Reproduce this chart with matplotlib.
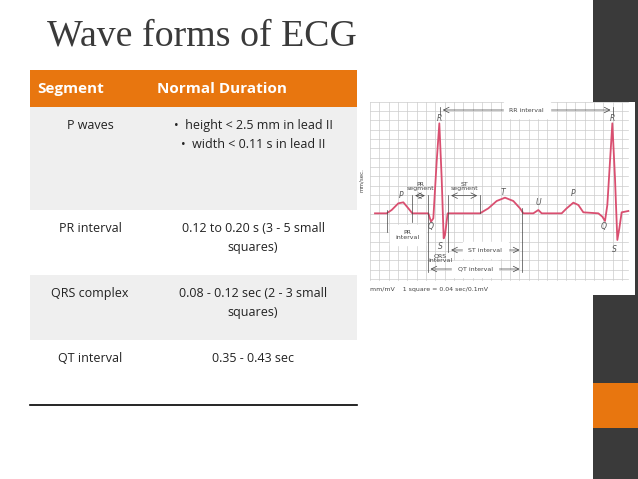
import matplotlib
matplotlib.use("Agg")
import matplotlib.pyplot as plt
from matplotlib.patches import Rectangle

W, H = 638, 479
title = "Wave forms of ECG"
headers = ["Segment", "Normal Duration"]
segments = ["P waves", "PR interval", "QRS complex", "QT interval"]
durations = ["•  height < 2.5 mm in lead II\n•  width < 0.11 s in lead II",
             "0.12 to 0.20 s (3 - 5 small\nsquares)",
             "0.08 - 0.12 sec (2 - 3 small\nsquares)",
             "0.35 - 0.43 sec"]
row_tops = [107, 210, 275, 340, 405]
row_colors = ["#efefef", "#ffffff", "#efefef", "#ffffff"]

# ECG trace key points (image coords: x in px, y in px downward)
ecg_x = [30, 65, 80, 100, 115, 130, 142, 190, 198, 205, 215, 223, 230, 236, 240, 248,
         345, 370, 395, 420, 445, 465, 475, 505, 520, 530, 590, 605, 625, 640, 655,
         700, 712, 720, 727, 742, 750, 757, 763, 770, 790]
ecg_y = [355, 355, 345, 325, 322, 340, 355, 355, 380, 370, 200, 85, 250, 430, 420, 355,
         355, 340, 318, 308, 318, 340, 355, 355, 345, 355, 355, 340, 323, 330, 352,
         355, 365, 378, 330, 85, 250, 435, 400, 352, 348]
wave_labels = ["P", "R", "Q", "S", "T", "U", "P", "R", "Q", "S"]
wave_lx = [108, 222, 198, 225, 415, 520, 625, 742, 717, 748]
wave_ly = [300, 70, 395, 455, 293, 322, 297, 70, 395, 462]

fig = plt.figure(figsize=(W/100, H/100), dpi=100)
fig.patch.set_facecolor("white")
def P(x, y): return (x/W, 1-y/H)

def rect(x0, y0, x1, y1, c, z=0):
    fig.add_artist(Rectangle(P(x0, y1), (x1-x0)/W, (y1-y0)/H, transform=fig.transFigure,
                             facecolor=c, edgecolor="none", zorder=z))

rect(593, 0, 638, 479, "#3a3a3a")
rect(593, 383, 638, 428, "#e8760f", 1)

fig.text(*P(47, 46), title, fontsize=27.3, family="Liberation Serif", color="#3a3a3a", va="baseline")

rect(30, 70, 357, 107, "#e8760f")
fig.text(*P(37, 89), headers[0], fontsize=11, weight="bold", color="white", va="center", family="Open Sans")
fig.text(*P(157, 89), headers[1], fontsize=11, weight="bold", color="white", va="center", family="Open Sans")
for i in range(4):
    rect(30, row_tops[i], 357, row_tops[i+1], row_colors[i])
    fig.text(*P(90, row_tops[i]+12), segments[i], fontsize=9, color="#222", ha="center", va="top", family="Open Sans")
    fig.text(*P(253, row_tops[i]+12), durations[i], fontsize=9, color="#222", ha="center", va="top",
             family="Open Sans", linespacing=1.6)
fig.add_artist(plt.Line2D([30/W, 357/W], [1-405/H]*2, transform=fig.transFigure, color="black", lw=1.2))

# ECG image
ax = fig.add_axes([365/W, 1-(95+630/3)/H, 270/W, 210/H])
ax.set_xlim(0, 810); ax.set_ylim(630, 0); ax.axis("off")
ax.add_patch(Rectangle((0, 20), 810, 580, facecolor="white", edgecolor="none", zorder=0))
for gx in range(15, 795, 28):
    ax.plot([gx, gx], [20, 555], color="#cccccc", lw=0.5)
for gy in range(20, 560, 28):
    ax.plot([15, 790], [gy, gy], color="#cccccc", lw=0.5)
ax.plot(ecg_x, ecg_y, color="#d94f70", lw=1.3)
for s, lx, ly in zip(wave_labels, wave_lx, wave_ly):
    ax.text(lx, ly, s, fontsize=5.5, style="italic", color="#555", ha="center", va="center")
g = "#444"
def hbar(x0, x1, y, label, ly=None):
    ax.annotate("", (x0, y), (x1, y), arrowprops=dict(arrowstyle="<->", color=g, lw=0.5))
    ax.text((x0+x1)/2, y if ly is None else ly, label, fontsize=4.5, color=g, ha="center", va="center",
            backgroundcolor="white", linespacing=0.9)
hbar(225, 745, 45, "RR interval")
hbar(65, 188, 405, "PR\ninterval", 420)
hbar(142, 188, 302, "")
ax.text(165, 275, "PR\nsegment", fontsize=4.5, color=g, ha="center", va="center", linespacing=0.9)
hbar(250, 345, 302, "")
ax.text(298, 275, "ST\nsegment", fontsize=4.5, color=g, ha="center", va="center", linespacing=0.9)
hbar(250, 472, 465, "ST interval")
hbar(188, 472, 522, "QT interval")
ax.text(225, 490, "QRS\ninterval", fontsize=4.5, color=g, ha="center", va="center", linespacing=0.9)
for x, y0, y1 in [(65, 345, 410), (142, 300, 380), (188, 300, 530), (250, 300, 470), (345, 300, 355),
                  (472, 340, 530), (225, 35, 60), (745, 35, 60)]:
    ax.plot([x, x], [y0, y1], color=g, lw=0.5)
ax.text(15, 585, "mm/mV    1 square = 0.04 sec/0.1mV", fontsize=4.5, color=g, va="center")
fig.text(*P(362, 180), "mm/sec.", fontsize=4, color=g, rotation=90, ha="center", va="center")

fig.savefig("out.png", dpi=100)
